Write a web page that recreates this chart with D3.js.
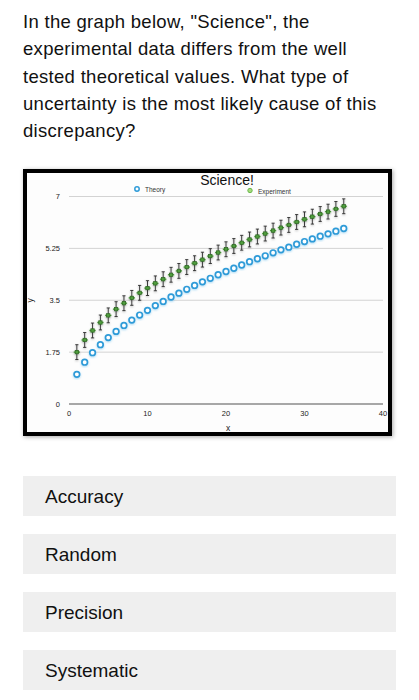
<!DOCTYPE html>
<html>
<head>
<meta charset="utf-8">
<script src="https://cdn.jsdelivr.net/npm/d3@7"></script>
<style>
  body { margin: 0; background: #fff; }
</style>
</head>
<body>
<div class="chart"></div>
<script>
const questionLines = [
  'In the graph below, "Science", the',
  "experimental data differs from the well",
  "tested theoretical values. What type of",
  "uncertainty is the most likely cause of this",
  "discrepancy?"
];
const answers = ["Accuracy", "Random", "Precision", "Systematic"];

const xValues = [1, 2, 3, 4, 5, 6, 7, 8, 9, 10, 11, 12, 13, 14, 15, 16, 17, 18,
  19, 20, 21, 22, 23, 24, 25, 26, 27, 28, 29, 30, 31, 32, 33, 34, 35];
const theory = [1.00, 1.41, 1.73, 2.00, 2.24, 2.45, 2.65, 2.83, 3.00, 3.16, 3.32,
  3.46, 3.61, 3.74, 3.87, 4.00, 4.12, 4.24, 4.36, 4.47, 4.58, 4.69, 4.80, 4.90,
  5.00, 5.10, 5.20, 5.29, 5.39, 5.48, 5.57, 5.66, 5.74, 5.83, 5.92];
const experiment = [1.75, 2.16, 2.48, 2.75, 2.99, 3.20, 3.40, 3.58, 3.75, 3.91,
  4.07, 4.21, 4.36, 4.49, 4.62, 4.75, 4.87, 4.99, 5.11, 5.22, 5.33, 5.44, 5.55,
  5.65, 5.75, 5.85, 5.95, 6.04, 6.14, 6.23, 6.32, 6.41, 6.49, 6.58, 6.67];
const yErr = 0.25;
const xErr = 0.4;
const yTicks = [0, 1.75, 3.5, 5.25, 7];
const xTicks = [0, 10, 20, 30, 40];

const width = 419, height = 700;

const svg = d3.select(".chart")
  .append("svg")
  .attr("width", width)
  .attr("height", height)
  .style("display", "block");

const defs = svg.append("defs");
const shadow = defs.append("filter").attr("id", "shadow")
  .attr("x", "-10%").attr("y", "-10%").attr("width", "120%").attr("height", "120%");
shadow.append("feDropShadow")
  .attr("dx", 1).attr("dy", 1).attr("stdDeviation", 2)
  .attr("flood-color", "#000").attr("flood-opacity", 0.35);
const glow = defs.append("filter").attr("id", "glow")
  .attr("x", "-50%").attr("y", "-50%").attr("width", "200%").attr("height", "200%");
glow.append("feDropShadow")
  .attr("dx", 0).attr("dy", 1).attr("stdDeviation", 1)
  .attr("flood-color", "#6fc3ee").attr("flood-opacity", 0.6);
const soft = defs.append("filter").attr("id", "soft")
  .attr("x", "-50%").attr("y", "-50%").attr("width", "200%").attr("height", "200%");
soft.append("feDropShadow")
  .attr("dx", 0).attr("dy", 1).attr("stdDeviation", 0.8)
  .attr("flood-color", "#000").attr("flood-opacity", 0.3);

const font = "Liberation Sans, Arial, sans-serif";

// question text
svg.append("g")
  .selectAll("text")
  .data(questionLines)
  .join("text")
  .attr("x", 23)
  .attr("y", (d, i) => 28 + i * 27.3)
  .attr("font-family", font)
  .attr("font-size", 18.5)
  .attr("letter-spacing", 0.3)
  .attr("fill", "#111")
  .text(d => d);

// chart frame
svg.append("rect")
  .attr("x", 25)
  .attr("y", 171)
  .attr("width", 365)
  .attr("height", 263)
  .attr("fill", "#fdfdfd")
  .attr("stroke", "#000")
  .attr("stroke-width", 4)
  .attr("filter", "url(#shadow)");

const xScale = d3.scaleLinear().domain([0, 40]).range([69, 383]);
const yScale = d3.scaleLinear().domain([0, 7]).range([404, 196.5]);

// grid lines
svg.append("g")
  .selectAll("line")
  .data(yTicks)
  .join("line")
  .attr("x1", xScale(0))
  .attr("x2", xScale(40))
  .attr("y1", d => yScale(d))
  .attr("y2", d => yScale(d))
  .attr("stroke", d => d === 0 ? "#8a8a8a" : "#d3d3d3")
  .attr("stroke-width", d => d === 0 ? 1.6 : 1);

svg.append("g")
  .selectAll("text")
  .data(yTicks)
  .join("text")
  .attr("x", 60)
  .attr("y", d => yScale(d))
  .attr("dy", "0.35em")
  .attr("text-anchor", "end")
  .attr("font-family", font)
  .attr("font-size", 7.5)
  .attr("fill", "#222")
  .text(d => d);

svg.append("g")
  .selectAll("text")
  .data(xTicks)
  .join("text")
  .attr("x", d => xScale(d))
  .attr("y", 416)
  .attr("text-anchor", "middle")
  .attr("font-family", font)
  .attr("font-size", 7.5)
  .attr("fill", "#222")
  .text(d => d);

// axis titles
svg.append("text")
  .attr("x", 228)
  .attr("y", 431)
  .attr("text-anchor", "middle")
  .attr("font-family", font)
  .attr("font-size", 8.5)
  .attr("fill", "#222")
  .text("x");

svg.append("text")
  .attr("transform", `translate(33, ${yScale(3.5)}) rotate(-90)`)
  .attr("text-anchor", "middle")
  .attr("font-family", font)
  .attr("font-size", 8.5)
  .attr("fill", "#222")
  .text("y");

// title
svg.append("text")
  .attr("x", 227)
  .attr("y", 185)
  .attr("text-anchor", "middle")
  .attr("font-family", font)
  .attr("font-size", 14)
  .attr("fill", "#111")
  .text("Science!");

// experiment series
const expData = xValues.map((x, i) => ({ x: x, y: experiment[i] }));
const theoryData = xValues.map((x, i) => ({ x: x, y: theory[i] }));

const expG = svg.append("g").attr("filter", "url(#soft)");
expG.selectAll(".hbar")
  .data(expData)
  .join("line")
  .attr("x1", d => xScale(d.x - xErr))
  .attr("x2", d => xScale(d.x + xErr))
  .attr("y1", d => yScale(d.y))
  .attr("y2", d => yScale(d.y))
  .attr("stroke", "#4c9a3a")
  .attr("stroke-width", 1.4);

expG.selectAll(".vbar")
  .data(expData)
  .join("path")
  .attr("d", d => {
    const x = xScale(d.x), y1 = yScale(d.y + yErr), y2 = yScale(d.y - yErr);
    return `M${x - 1.6},${y1}H${x + 1.6}M${x},${y1}V${y2}M${x - 1.6},${y2}H${x + 1.6}`;
  })
  .attr("fill", "none")
  .attr("stroke", "#2a2a2a")
  .attr("stroke-width", 0.9);

expG.selectAll("rect")
  .data(expData)
  .join("rect")
  .attr("x", d => xScale(d.x) - 1.7)
  .attr("y", d => yScale(d.y) - 1.7)
  .attr("width", 3.4)
  .attr("height", 3.4)
  .attr("fill", "#4f9e3c")
  .attr("stroke", "#2c6422")
  .attr("stroke-width", 0.7);

// theory series
svg.append("g")
  .selectAll("circle")
  .data(theoryData)
  .join("circle")
  .attr("cx", d => xScale(d.x))
  .attr("cy", d => yScale(d.y))
  .attr("r", 2.8)
  .attr("fill", "#fff")
  .attr("stroke", "#2f9bd8")
  .attr("stroke-width", 1.7)
  .attr("filter", "url(#glow)");

// legend
svg.append("circle")
  .attr("cx", 137)
  .attr("cy", 189)
  .attr("r", 2.2)
  .attr("fill", "#fff")
  .attr("stroke", "#2f9bd8")
  .attr("stroke-width", 1.5);
svg.append("text")
  .attr("x", 145)
  .attr("y", 191.5)
  .attr("font-family", font)
  .attr("font-size", 6.5)
  .attr("fill", "#333")
  .text("Theory");

svg.append("circle")
  .attr("cx", 250)
  .attr("cy", 190.5)
  .attr("r", 2.2)
  .attr("fill", "#a6dc7c")
  .attr("stroke", "#6ab84e")
  .attr("stroke-width", 1);
svg.append("text")
  .attr("x", 258)
  .attr("y", 193.5)
  .attr("font-family", font)
  .attr("font-size", 6.5)
  .attr("fill", "#333")
  .text("Experiment");

// answer options
const answerG = svg.append("g")
  .selectAll("g")
  .data(answers)
  .join("g")
  .attr("transform", (d, i) => `translate(23, ${476 + i * 58})`);

answerG.append("rect")
  .attr("width", 373)
  .attr("height", 40)
  .attr("fill", "#efefef");

answerG.append("text")
  .attr("x", 22)
  .attr("y", 27)
  .attr("font-family", font)
  .attr("font-size", 19)
  .attr("fill", "#111")
  .text(d => d);
</script>
</body>
</html>
